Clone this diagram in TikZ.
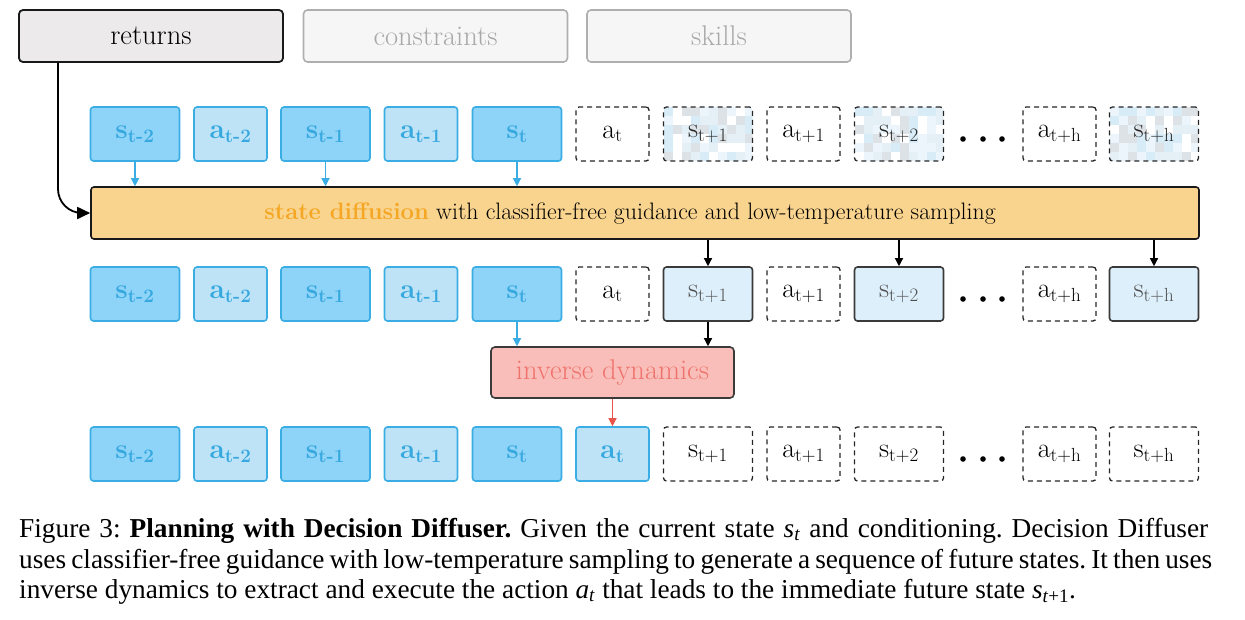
\documentclass[tikz,border=0pt]{standalone}
\usepackage{fontspec}
\newfontfamily\capfont{Liberation Serif}
\usetikzlibrary{arrows.meta}
\definecolor{bluebd}{HTML}{3AADE4}
\definecolor{bluetx}{HTML}{36A8E0}
\definecolor{sfill}{HTML}{8ED3F8}
\definecolor{afill}{HTML}{BEE3F7}
\definecolor{ffill}{HTML}{DDEFFA}
\definecolor{fbd}{HTML}{3A3A3A}
\definecolor{ftx}{HTML}{505050}
\definecolor{barfill}{HTML}{F9D48F}
\definecolor{orangetx}{HTML}{F5A623}
\definecolor{invfill}{HTML}{F9BEB9}
\definecolor{invtx}{HTML}{EF736C}
\definecolor{redarr}{HTML}{E8534A}
\definecolor{retfill}{HTML}{ECEAEA}
\definecolor{grayfill}{HTML}{F6F6F6}
\definecolor{graybd}{HTML}{AFAFAF}
\definecolor{graytx}{HTML}{A8A8A8}
\definecolor{noise1}{HTML}{FFFFFF}
\definecolor{noise2}{HTML}{EBF5FB}
\definecolor{noise3}{HTML}{D8ECF8}
\definecolor{noise4}{HTML}{DDE2E7}
\definecolor{noise5}{HTML}{E4EFF6}
\newcommand\lb[2]{#1$_{\mbox{\fontsize{19}{19}\selectfont #2}}$}
\newcommand\noisycells[2]{%
  \begin{scope}
    \clip[rounded corners=3pt] (#1-44.5,#2-27) rectangle (#1+44.5,#2+27);
    \foreach \i in {0,...,9}{\foreach \j in {0,...,5}{%
      \pgfmathrandominteger{\c}{1}{5}%
      \edef\cc{noise\c}%
      \fill[\cc] (#1-44.5+\i*9,#2-27+\j*9) rectangle ++(9,9);
    }}
  \end{scope}}
\begin{document}
\begin{tikzpicture}[x=1pt,y=-1pt,
  basebox/.style={rounded corners=3pt, inner sep=0pt, minimum height=54pt, font=\fontsize{28}{30}\selectfont},
  sbox/.style={basebox, draw=bluebd, fill=sfill, line width=1.6pt, minimum width=89pt, text=bluetx, font=\fontsize{28}{30}\selectfont\bfseries},
  abox/.style={sbox, fill=afill, minimum width=73pt},
  dbox/.style={basebox, draw=black!85, fill=white, line width=1.3pt, dash pattern=on 5pt off 4pt, minimum width=73pt},
  nbox/.style={dbox, fill=none, minimum width=89pt, text=black!85},
  dsbox/.style={dbox, minimum width=89pt},
  fbox/.style={basebox, draw=fbd, fill=ffill, line width=1.6pt, minimum width=89pt, text=ftx},
  topbtn/.style={rounded corners=4pt, minimum width=264pt, minimum height=52pt, inner sep=0pt, font=\fontsize{28.5}{30}\selectfont},
  barrow/.style={draw=bluebd, line width=1.3pt, -{Triangle[length=8pt,width=8pt]}},
  karrow/.style={draw=black, line width=1.3pt, -{Triangle[length=8pt,width=8pt]}},
  rarrow/.style={draw=redarr, line width=1.3pt, -{Triangle[length=8pt,width=8pt]}},
  dot/.style={fill=black, draw=none}
]
\useasboundingbox (0,0) rectangle (1245,619);
\pgfmathsetseed{17}

% top buttons
\node[topbtn, draw=black!90, fill=retfill, line width=1.8pt] (ret) at (151,36) {returns};
\node[topbtn, draw=graybd, fill=grayfill, line width=1.6pt, text=graytx] (con) at (435.5,36) {constraints};
\node[topbtn, draw=graybd, fill=grayfill, line width=1.6pt, text=graytx] (ski) at (719,36) {skills};

% row 1
\node[sbox] (r1s2) at (135,134) {\lb{s}{t-2}};
\node[abox] (r1a2) at (230.5,134) {\lb{a}{t-2}};
\node[sbox] (r1s1) at (325.5,134) {\lb{s}{t-1}};
\node[abox] (r1a1) at (421,134) {\lb{a}{t-1}};
\node[sbox] (r1s0) at (517,134) {\lb{s}{t}};
\node[dbox] (r1a0) at (612.5,134) {\lb{a}{t}};
\noisycells{708}{134}
\node[nbox] (r1sp1) at (708,134) {\lb{s}{t+1}};
\node[dbox] (r1ap1) at (803.5,134) {\lb{a}{t+1}};
\noisycells{899}{134}
\node[nbox] (r1sp2) at (899,134) {\lb{s}{t+2}};
\node[dbox] (r1aph) at (1059.5,134) {\lb{a}{t+h}};
\noisycells{1154}{134}
\node[nbox] (r1sph) at (1154,134) {\lb{s}{t+h}};
\foreach \x in {963,983,1002} \fill[dot] (\x,139) circle (2.8pt);

% state diffusion bar
\node[draw=black!90, fill=barfill, line width=1.6pt, rounded corners=3pt, minimum width=1108pt, minimum height=52pt, inner sep=0pt] (bar) at (645,213) {};
\node[font=\fontsize{23.8}{26}\selectfont, inner sep=0pt] (bartext) at (630,214) {\textcolor{orangetx}{\bfseries state diffusion} with classifier-free guidance and low-temperature sampling};

% row 2
\node[sbox] (r2s2) at (135,294) {\lb{s}{t-2}};
\node[abox] (r2a2) at (230.5,294) {\lb{a}{t-2}};
\node[sbox] (r2s1) at (325.5,294) {\lb{s}{t-1}};
\node[abox] (r2a1) at (421,294) {\lb{a}{t-1}};
\node[sbox] (r2s0) at (517,294) {\lb{s}{t}};
\node[dbox] (r2a0) at (612.5,294) {\lb{a}{t}};
\node[fbox] (r2sp1) at (708,294) {\lb{s}{t+1}};
\node[dbox] (r2ap1) at (803.5,294) {\lb{a}{t+1}};
\node[fbox] (r2sp2) at (899,294) {\lb{s}{t+2}};
\node[dbox] (r2aph) at (1059.5,294) {\lb{a}{t+h}};
\node[fbox] (r2sph) at (1154,294) {\lb{s}{t+h}};
\foreach \x in {963,983,1002} \fill[dot] (\x,299) circle (2.8pt);

% inverse dynamics
\node[draw=fbd, fill=invfill, line width=1.6pt, rounded corners=4pt, minimum width=243pt, minimum height=51pt, inner sep=0pt, text=invtx, font=\fontsize{28.5}{30}\selectfont] (inv) at (612.5,372.5) {inverse dynamics};

% row 3
\node[sbox] (r3s2) at (135,454) {\lb{s}{t-2}};
\node[abox] (r3a2) at (230.5,454) {\lb{a}{t-2}};
\node[sbox] (r3s1) at (325.5,454) {\lb{s}{t-1}};
\node[abox] (r3a1) at (421,454) {\lb{a}{t-1}};
\node[sbox] (r3s0) at (517,454) {\lb{s}{t}};
\node[abox] (r3a0) at (612.5,454) {\lb{a}{t}};
\node[dsbox] (r3sp1) at (708,454) {\lb{s}{t+1}};
\node[dbox] (r3ap1) at (803.5,454) {\lb{a}{t+1}};
\node[dsbox] (r3sp2) at (899,454) {\lb{s}{t+2}};
\node[dbox] (r3aph) at (1059.5,454) {\lb{a}{t+h}};
\node[dsbox] (r3sph) at (1154,454) {\lb{s}{t+h}};
\foreach \x in {963,983,1002} \fill[dot] (\x,459) circle (2.8pt);

% arrows
\coordinate (rstart) at ([xshift=-93pt]ret.south);
\draw[black, line width=1.8pt, rounded corners=24pt, -{Triangle[length=13pt,width=12pt]}] (rstart) |- (bar.west);
\foreach \n in {r1s2,r1s1,r1s0} \draw[barrow] (\n.south) -- (\n.south |- bar.north);
\foreach \n in {r2sp1,r2sp2,r2sph} \draw[karrow] (\n.north |- bar.south) -- (\n.north);
\draw[barrow] (r2s0.south) -- (r2s0.south |- inv.north);
\draw[karrow] (r2sp1.south) -- (r2sp1.south |- inv.north);
\draw[rarrow] (inv.south -| r3a0) -- (r3a0.north);

% caption
\begin{scope}[every node/.style={anchor=base west, inner sep=0pt, font=\capfont\frenchspacing\fontsize{27.3}{30}\selectfont}]
\node (cap1) at (19,537) {\hbox to 1189pt{Figure 3: \textbf{Planning with Decision Diffuser.} Given the current state \textit{s}\textsubscript{\textit{t}} and conditioning. Decision Diffuser}};
\node (cap2) at (19,568) {\hbox to 1193pt{uses classifier-free guidance with low-temperature sampling to generate a sequence of future states. It then uses}};
\node (cap3) at (19,598) {inverse dynamics to extract and execute the action \textit{a}\textsubscript{\textit{t}} that leads to the immediate future state \textit{s}\textsubscript{\textit{t}+1}.};
\end{scope}
\end{tikzpicture}
\end{document}
